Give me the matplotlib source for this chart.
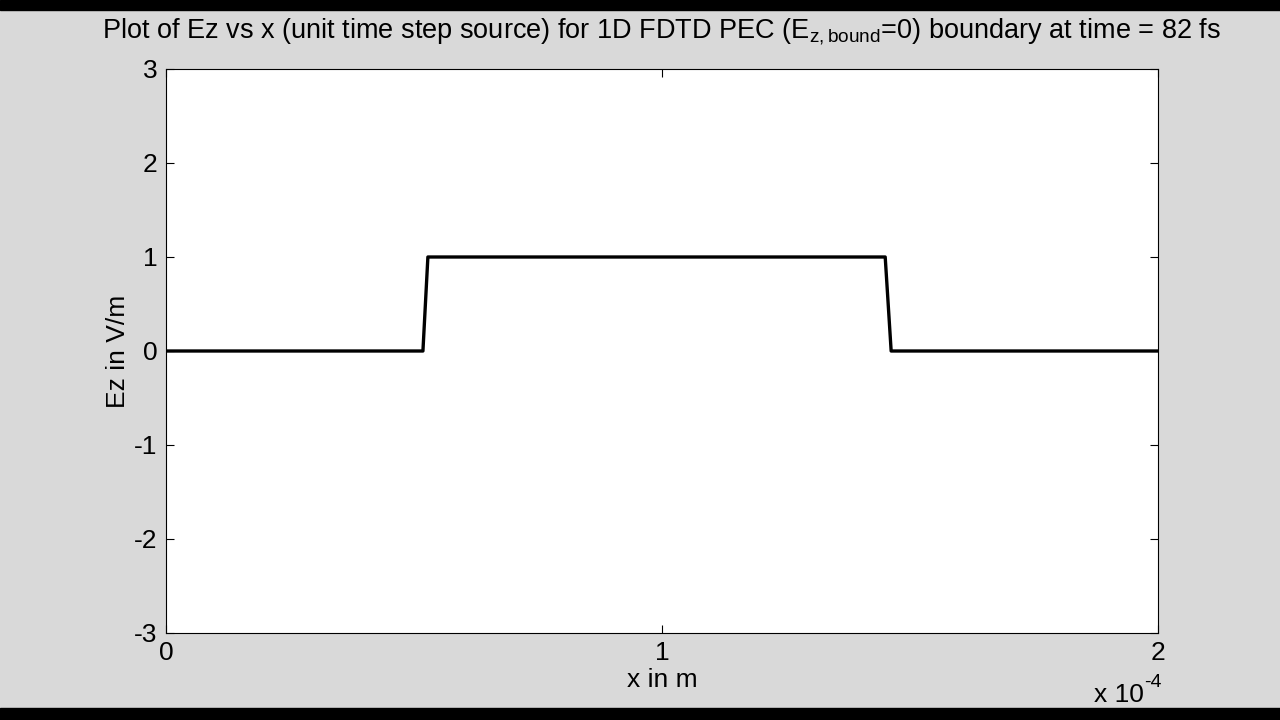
import numpy as np
import matplotlib
matplotlib.use("Agg")
import matplotlib.pyplot as plt

plt.rcParams['font.family'] = ['Liberation Sans', 'DejaVu Sans']
plt.rcParams['mathtext.fontset'] = 'custom'
plt.rcParams['mathtext.rm'] = 'Liberation Sans'
plt.rcParams['mathtext.it'] = 'Liberation Sans'
plt.rcParams['axes.unicode_minus'] = False

# Ez field along x (m) at t = 82 fs, step pulse
x_m = [0.0, 0.518e-4, 0.528e-4, 1.450e-4, 1.462e-4, 2.0e-4]
ez = [0, 0, 1, 1, 0, 0]

xticks = [0, 1e-4, 2e-4]
xtick_labels = ['0', '1', '2']
yticks = [-3, -2, -1, 0, 1, 2, 3]

fig = plt.figure(figsize=(12.8, 7.2), dpi=100, facecolor='#d9d9d9')
# black letterbox bars top and bottom
fig.patches.append(plt.Rectangle((0, 0), 1, 12 / 720, transform=fig.transFigure,
                                 color='black', zorder=0))
fig.patches.append(plt.Rectangle((0, 1 - 10 / 720), 1, 10 / 720, transform=fig.transFigure,
                                 color='black', zorder=0))

ax = fig.add_axes([166 / 1280, 1 - 633 / 720, (1158 - 166) / 1280, (633 - 69) / 720])
ax.set_facecolor('white')
ax.plot(x_m, ez, color='black', lw=2.4)

ax.set_xlim(0, 2e-4)
ax.set_ylim(-3, 3)
ax.set_xticks(xticks)
ax.set_xticklabels(xtick_labels)
ax.set_yticks(yticks)
ax.tick_params(direction='in', length=6, width=0.8, top=True, right=True,
               labelsize=19, pad=6, colors='black')
for s in ax.spines.values():
    s.set_linewidth(0.8)

ax.set_xlabel('x in m', fontsize=19, labelpad=2)
ax.set_ylabel('Ez in V/m', fontsize=19, labelpad=3)
ax.set_title(r'Plot of Ez vs x (unit time step source) for 1D FDTD PEC (E$_{\mathrm{z,bound}}$=0) boundary at time = 82 fs',
             fontsize=19.5, pad=22)

# manual exponent label, drawn as plain text so the hyphen stays a hyphen
ax.text(0.986, -0.122, 'x 10', transform=ax.transAxes, ha='right', va='baseline', fontsize=19)
ax.text(0.986, -0.095, '-4', transform=ax.transAxes, ha='left', va='baseline', fontsize=14)

fig.savefig('out.png', dpi=100, facecolor=fig.get_facecolor())
